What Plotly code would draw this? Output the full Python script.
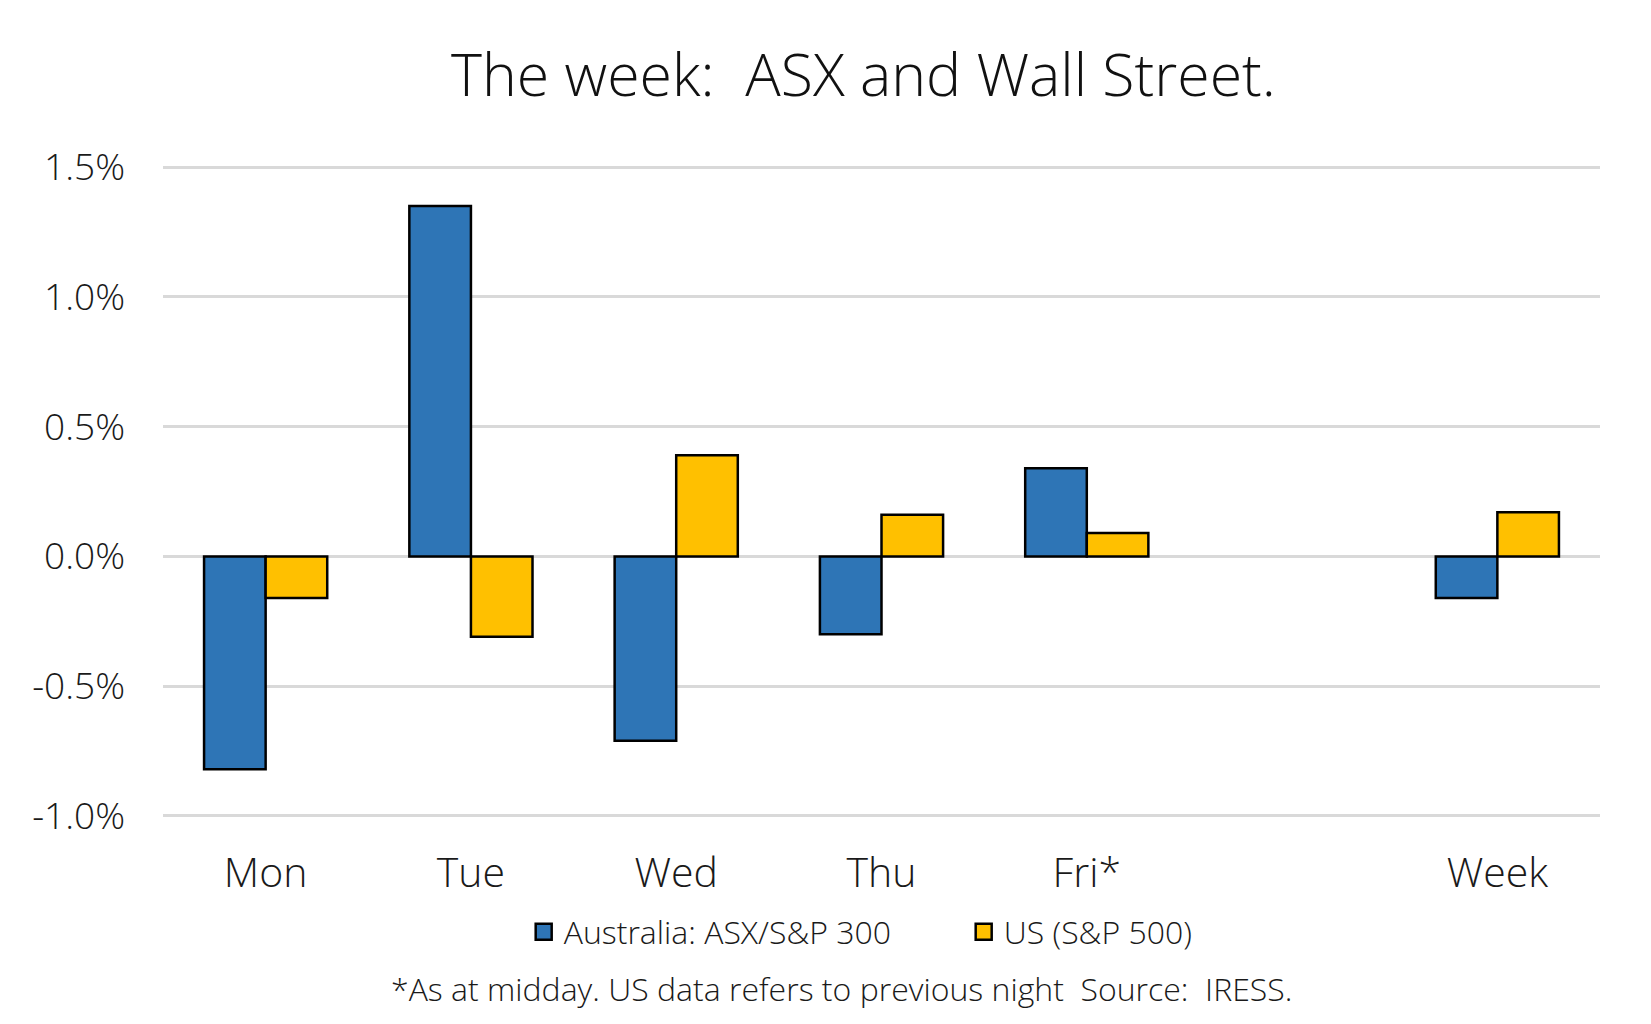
import plotly.graph_objects as go

categories = ["Mon", "Tue", "Wed", "Thu", "Fri*", " ", "Week"]
asx = [-0.82, 1.35, -0.71, -0.30, 0.34, None, -0.16]
us = [-0.16, -0.31, 0.39, 0.16, 0.09, None, 0.17]
y_ticks = [-1.0, -0.5, 0.0, 0.5, 1.0, 1.5]
y_labels = ["-1.0%", "-0.5%", "0.0%", "0.5%", "1.0%", "1.5%"]
series_names = ["Australia: ASX/S&P 300", "US (S&P 500)"]
series_colors = ["#2E75B6", "#FFC000"]

FONT = "Open Sans"
TXT = "#1a1a1a"

fig = go.Figure()
for name, vals, col in zip(series_names, [asx, us], series_colors):
    fig.add_trace(go.Bar(name=name, x=categories, y=vals, showlegend=False,
                         marker=dict(color=col, line=dict(color="black", width=2.5))))
for name, col in zip(series_names, series_colors):
    fig.add_trace(go.Scatter(name=name, x=[None], y=[None], mode="markers", showlegend=True,
                             marker=dict(symbol="square", size=16, color=col,
                                         line=dict(color="black", width=2.5))))

fig.update_layout(
    width=1651, height=1024,
    margin=dict(l=163, r=51, t=166, b=207),
    paper_bgcolor="white", plot_bgcolor="white",
    barmode="group", bargap=0.4, bargroupgap=0,
    font=dict(family=FONT, color=TXT, weight=300),
    title=dict(text="The week:  ASX and Wall Street.", x=0.523, xanchor="center",
               y=1 - 75 / 1024, yanchor="middle",
               font=dict(family=FONT, size=59, color="#111111", weight=300)),
    showlegend=True,
    legend=dict(orientation="h", x=0.251, xanchor="left", y=-(932 - 817) / 651, yanchor="middle",
                font=dict(family=FONT, size=32, color=TXT, weight=300),
                entrywidth=395, entrywidthmode="pixels", itemwidth=30,
                traceorder="normal"),
    xaxis=dict(type="category", showgrid=False, showline=False, ticks="",
               tickfont=dict(family=FONT, size=41, color=TXT, weight=300),
               ticklabelstandoff=28),
    yaxis=dict(range=[-1.004, 1.504], tickvals=y_ticks, ticktext=y_labels,
               showgrid=True, gridcolor="#D9D9D9", gridwidth=2.5,
               zeroline=True, zerolinecolor="#D9D9D9", zerolinewidth=2.5,
               showline=False, ticks="",
               tickfont=dict(family=FONT, size=37, color=TXT, weight=300),
               ticklabelstandoff=37),
)

fig.add_annotation(text="*As at midday. US data refers to previous night  Source:  IRESS.",
                   xref="paper", yref="paper", x=0.472, xanchor="center",
                   y=-(988 - 817) / 651, yanchor="middle", showarrow=False,
                   font=dict(family=FONT, size=32, color=TXT, weight=300))

fig.write_html("out.html")
